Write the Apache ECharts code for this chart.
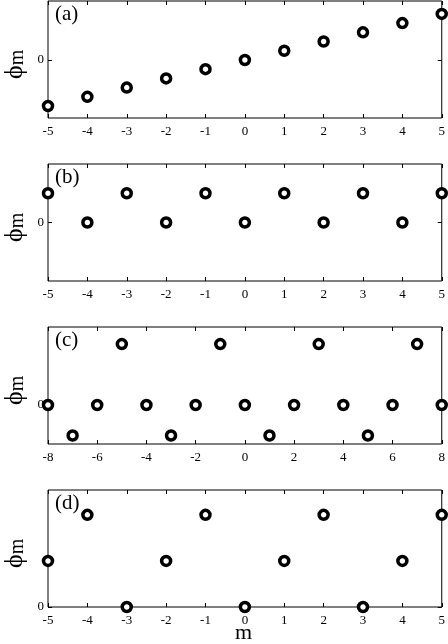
<!DOCTYPE html><html><head><meta charset="utf-8">
<script src="https://cdn.jsdelivr.net/npm/echarts@6/dist/echarts.min.js"></script>
<style>html,body{margin:0;padding:0;background:#fff}#c{width:448px;height:644px}</style></head><body><div id="c"></div>
<script>
const mA=[-5,-4,-3,-2,-1,0,1,2,3,4,5];
const phiA=[-5,-4,-3,-2,-1,0,1,2,3,4,5];
const mB=[-5,-4,-3,-2,-1,0,1,2,3,4,5];
const phiB=[1,0,1,0,1,0,1,0,1,0,1];
const mC=[-8,-7,-6,-5,-4,-3,-2,-1,0,1,2,3,4,5,6,7,8];
const phiC=[0,-1,0,2,0,-1,0,2,0,-1,0,2,0,-1,0,2,0];
const mD=[-5,-4,-3,-2,-1,0,1,2,3,4,5];
const phiD=[1,2,0,1,2,0,1,2,0,1,2];
const panelLabels=['(a)','(b)','(c)','(d)'];
const panels=[
 {m:mA,p:phiA,top:1,xmin:-5,xmax:5,xi:1,ymin:-6.3,ymax:6.4},
 {m:mB,p:phiB,top:164,xmin:-5,xmax:5,xi:1,ymin:-2,ymax:2},
 {m:mC,p:phiC,top:327,xmin:-8,xmax:8,xi:2,ymin:-1.28,ymax:2.56},
 {m:mD,p:phiD,top:490,xmin:-5,xmax:5,xi:1,ymin:0,ymax:2.54}
];
const F='Liberation Serif';
const grid=[],xAxis=[],yAxis=[],series=[],graphic=[];
panels.forEach((P,i)=>{
 grid.push({left:48,width:394,top:P.top,height:117,show:true,borderColor:'#000',borderWidth:1});
 const common={type:'value',min:P.xmin,max:P.xmax,interval:P.xi,gridIndex:i,axisLine:{show:false,onZero:false},splitLine:{show:false},axisTick:{inside:true,length:4,lineStyle:{color:'#000'}}};
 xAxis.push(Object.assign({},common,{position:'bottom',axisLabel:{color:'#000',fontFamily:F,fontSize:13,margin:7}}));
 xAxis.push(Object.assign({},common,{position:'top',axisLabel:{show:false}}));
 const yc={type:'value',min:P.ymin,max:P.ymax,gridIndex:i,axisLine:{show:false,onZero:false},splitLine:{show:false},
  axisTick:{inside:true,length:4,customValues:[0],lineStyle:{color:'#000'}},axisLabel:{customValues:[0],color:'#000',fontFamily:F,fontSize:13,margin:4}};
 yAxis.push(Object.assign({},yc,{position:'left'}));
 yAxis.push(Object.assign({},yc,{position:'right',axisLabel:{show:false}}));
 series.push({type:'scatter',xAxisIndex:2*i,yAxisIndex:2*i,clip:false,symbol:'circle',symbolSize:9,
  itemStyle:{color:'#fff',borderColor:'#000',borderWidth:3.5,opacity:1},data:P.m.map((v,k)=>[v,P.p[k]])});
 graphic.push({type:'text',left:55,top:P.top+3,style:{text:panelLabels[i],font:'21px "Liberation Serif"',fill:'#000'}});
 graphic.push({type:'text',x:2,y:P.top+78,rotation:Math.PI/2,style:{text:'{a|ϕ}{b|m}',rich:{a:{fontSize:26,fontFamily:F,fill:'#000'},b:{fontSize:20,fontFamily:F,fill:'#000',verticalAlign:'bottom'}}}});
});
graphic.push({type:'text',left:235,top:622,style:{text:'m',font:'22px "Liberation Serif"',fill:'#000'}});
const chart=echarts.init(document.getElementById('c'));
chart.setOption({animation:false,grid,xAxis,yAxis,series,graphic});
</script></body></html>
